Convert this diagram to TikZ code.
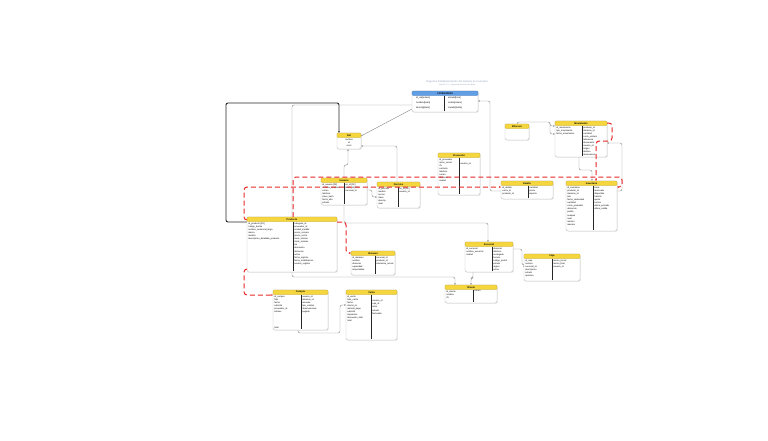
\documentclass[tikz,border=0pt]{standalone}
\usepackage{fontspec}
\setmainfont{Liberation Sans}
\usetikzlibrary{arrows.meta, positioning, shadows, backgrounds}
\definecolor{amarillo}{RGB}{246,214,62}
\definecolor{azul}{RGB}{96,158,230}
\definecolor{rojo}{RGB}{232,38,38}
\definecolor{tituloc}{RGB}{150,166,192}

% tabla: nombre, x, y, ancho, alto, division, cabecera, campos izq., campos der.
\newcommand{\tabla}[9]{%
  \node[entidad, minimum width=#4pt, minimum height=#5pt] (#1) at (#2,#3) {};
  \node[cabecera, minimum width=#4pt] (#1-h) at (#1.north) {#7};
  \draw[divisor] ([xshift=#6pt]#1-h.south west) -- ([xshift=#6pt,yshift=1pt]#1.south west);
  \node[campos] at (#1-h.south west) {#8};
  \node[campos] at ([xshift=#6pt]#1-h.south west) {#9};
}

\begin{document}
\begin{tikzpicture}[x=1pt, y=-1pt,
    entidad/.style={draw=black!25, fill=white, rounded corners=1.5pt, anchor=north west, inner sep=0pt, outer sep=0pt, line width=0.4pt, drop shadow={shadow xshift=0.7pt, shadow yshift=-0.7pt, opacity=0.25}},
    cabecera/.style={fill=amarillo, draw=amarillo!75!black, line width=0.3pt, rounded corners=1pt, anchor=north, minimum height=4.5pt, inner sep=0pt, outer sep=0pt, font=\fontsize{2.4}{2.6}\selectfont\bfseries},
    campos/.style={anchor=north west, align=left, inner xsep=1.2pt, inner ysep=0.8pt, font=\fontsize{2.2}{3.1}\selectfont},
    divisor/.style={draw=black!85, line width=0.7pt},
    linea/.style={draw=black!45, line width=0.45pt, rounded corners=2pt},
    lineanegra/.style={draw=black!85, line width=0.9pt, rounded corners=2pt},
    linearoja/.style={draw=rojo, line width=1pt, dash pattern=on 5pt off 3pt, rounded corners=3pt},
    punta/.style={-{Stealth[length=1.8pt, width=1.6pt]}},
    puntai/.style={{Stealth[length=1.8pt, width=1.6pt]}-}
]
\useasboundingbox (0,0) rectangle (768,440);

\node[font=\fontsize{2.6}{3}\selectfont, text=tituloc, align=center] (titulo) at (457,83)
  {Diagrama Entidad-Relación del Sistema de Inventario\\[-0.3pt]{\fontsize{2}{2.4}\selectfont Versión 2.1 -- esquema de base de datos}};

% tablas
\begin{scope}[cabecera/.append style={fill=azul, draw=azul!75!black}, campos/.append style={font=\fontsize{2.3}{5}\selectfont, inner xsep=4pt}]
\tabla{cat}{412}{91}{66}{21}{32}{CATEGORIAS}{id\_cat[entero]\\nombre[texto]\\descrip[texto]}{estado[bool]\\orden[entero]\\creado[fecha]}
\end{scope}

\node[entidad, minimum width=24pt, minimum height=16pt] (b3) at (337,133) {};
\node[cabecera, minimum width=24pt] (b3-h) at (b3.north) {Rol};
\node[campos, anchor=north, align=center] at (b3-h.south) {nombre\\id\\nivel};

\node[entidad, minimum width=24pt, minimum height=16pt] (b16) at (505,124) {};
\node[cabecera, minimum width=24pt] (b16-h) at (b16.north) {Bitacora};

\tabla{b4}{321}{178}{46}{27}{23}{Usuario}{id\_usuario [PK]\\nombre\_completo\\correo\\telefono\\clave\_hash\\fecha\_alta\\estado}{rol\_id [FK]\\depto\_id [FK]\\sucursal\_id}
\tabla{b5}{377}{182}{43}{26}{21}{Permiso}{id\_permiso\\modulo\\accion\\clave\\descrip\\nivel}{rol\_id [FK]\\usuario\_id}
\tabla{b6}{438}{153}{42}{42}{21}{Proveedor}{id\_proveedor\\razon\_social\\rfc\\contacto\\telefono\\correo\\direccion\\ciudad}{~\\~\\usuario\_id}
\tabla{b7}{247}{217}{90}{55}{46}{Producto}{id\_producto [PK]\\codigo\_barras\\nombre\_comercial\_largo\\marca\\modelo\\descripcion\_detallada\_producto}{categoria\_id\\proveedor\_id\\unidad\_medida\\precio\_compra\\precio\_venta\\stock\_minimo\\stock\_maximo\\iva\\descuento\\ubicacion\\activo\\fecha\_registro\\fecha\_modificacion\\usuario\_registro}
\tabla{b8}{351}{251}{44}{24}{24}{Almacen}{id\_almacen\\nombre\\direccion\\capacidad\\responsable}{sucursal\_id\\producto\_id\\existencia\_actual}
\tabla{b9}{273}{290}{55}{40}{28}{Compra}{id\_compra\\folio\\fecha\\subtotal\\proveedor\_id\\estatus\\~\\~\\~\\~\\total}{usuario\_id\\almacen\_id\\moneda\\tipo\_cambio\\observaciones\\pagado}
\tabla{b10}{346}{290}{51}{50}{25}{Venta}{id\_venta\\folio\_venta\\fecha\\cliente\_id\\metodo\_pago\\subtotal\\impuestos\\descuento\_total\\total}{~\\~\\usuario\_id\\caja\_id\\turno\\estado\\facturada}
\tabla{b11}{465}{242}{48}{30}{27}{Sucursal}{id\_sucursal\\nombre\_sucursal\\ciudad}{direccion\\telefono\\encargado\\horario\\codigo\_postal\\estado\\region\\activo}
\tabla{b12}{445}{285}{52}{18}{28}{Cliente}{id\_cliente\\nombre\\rfc}{correo}
\tabla{b13}{524}{254}{56}{27}{28}{Caja}{id\_caja\\numero\\sucursal\_id\\descripcion\\estado\\apertura}{monto\_inicial\\monto\_final\\usuario\_id}
\tabla{b14}{501}{181}{52}{18}{27}{Detalle}{id\_detalle\\venta\_id\\producto\_id}{cantidad\\precio\\importe}
\tabla{b15}{566}{181}{51}{50}{27}{Inventario}{id\_inventario\\producto\_id\\almacen\_id\\lote\\fecha\_caducidad\\cantidad\\costo\_promedio\\ubicacion\\pasillo\\anaquel\\nivel\\minimo\\maximo}{stock\\reservado\\disponible\\transito\\ajuste\\conteo\\ultima\_entrada\\ultima\_salida}
\tabla{b17}{555}{121}{52}{36}{27}{Movimiento}{id\_movimiento\\tipo\_movimiento\\fecha\_movimiento}{producto\_id\\almacen\_id\\cantidad\\costo\_unitario\\referencia\\documento\\usuario\_id\\origen\\destino\\observacion}

% conectores grises y negro
\begin{pgfonlayer}{background}
\draw[lineanegra, punta] ([yshift=-5pt]b7.north west) -- ++(-21,0) -- ++(0,-119) -| ([xshift=2pt]b3.north west);
\draw[linea, punta] ([yshift=-14pt]cat.north west) -- ++(-120,0) -- ++(0,172) -| ([xshift=10pt]b12.north west);
\draw[linea, punta] ([yshift=-18pt]cat.north west) -- ([yshift=-3pt]b3.north east);
\draw[linea, puntai] ([xshift=11pt]b3.south west) -- ++(0,16) -| (b4.north);
\draw[linea, puntai] ([yshift=-13pt]b3.north east) -| ([xshift=20pt]b5.north west);
\draw[linea, punta] (b4.south) -- ++(0,18) -| ([xshift=23pt]b11.north west);
\draw[linea, punta] ([yshift=-12pt]b4.north east) -- ++(5,0) |- ([yshift=-15pt]b5.north west);
\draw[linea, puntai] ([yshift=-10pt]cat.north east) -- ++(12,0) |- ([yshift=-10pt]b14.north west);
\draw[linea, punta] (b16.north) -- ++(0,-2) -- ++(33,0) |- ([yshift=-5pt]b17.north west);
\draw[linea, punta] ([xshift=33pt,yshift=2pt]b16.north) |- ([yshift=-13pt]b17.north west);
\draw[linea, punta] ([xshift=-2pt]b17.south) -- ++(0,13) -| ([xshift=26pt]b15.north west);
\draw[linea, punta] ([yshift=-10pt]b15.north east) -- ++(5,0) |- ([yshift=-22pt]b17.north east);
\draw[linea, punta] ([xshift=25pt]b9.south west) -- ++(0,3) -- ++(42,0) |- ([yshift=-15pt]b10.north west);
\draw[linea, punta] ([xshift=8pt]b11.south west) -- ++(0,6) -| ([xshift=26pt]b12.north west);
\draw[linea, punta] ([yshift=-7pt]b11.north east) -- ++(9,0) |- ([yshift=-11pt]b13.north west);
\end{pgfonlayer}

% conectores rojos
\draw[linearoja, punta] ([xshift=46pt]b7.north west) -- ++(0,-40) -- ++(329,0) |- ([yshift=-6pt]b15.north east);
\draw[linearoja, punta] ([yshift=-3pt]b7.north west) -- ++(-3,0) |- ([yshift=-6pt]b14.north west);
\draw[linearoja, punta] ([yshift=-2pt]b17.north east) -- ++(5,0) -- ++(0,18) -| ([xshift=30pt]b15.north west);
\draw[linearoja, punta] ([yshift=-5pt]b7.north east) -- ++(9,0) |- ([yshift=-2pt]b8.north west);
\draw[linearoja, punta] ([yshift=3pt]b7.south west) -- ++(-3,0) |- ([yshift=-5pt]b9.north west);
\end{tikzpicture}
\end{document}
